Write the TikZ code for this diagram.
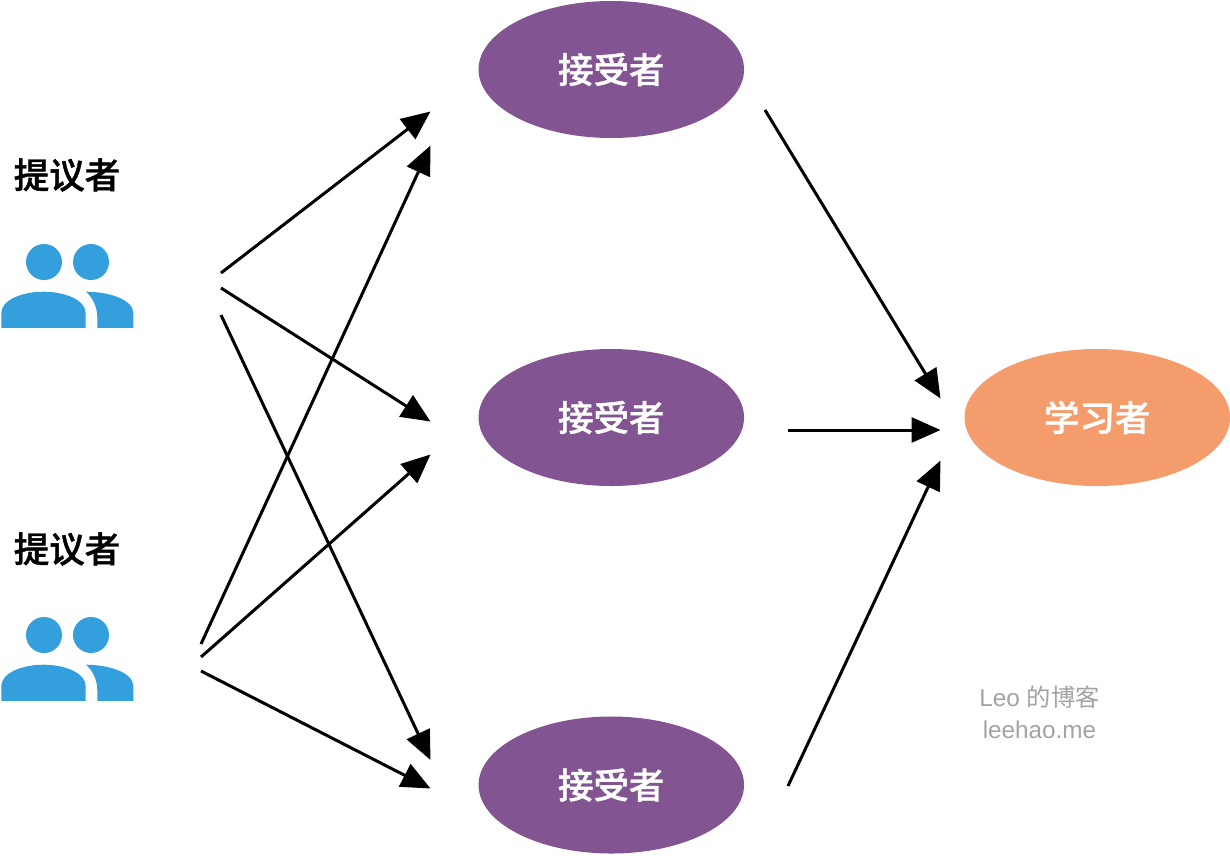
\documentclass[tikz,border=0pt]{standalone}
\usepackage{fontspec}
\setmainfont{Liberation Sans}
\newfontfamily\cjk{Noto Sans CJK SC}
\newfontfamily\cjkm{Noto Sans CJK SC Medium}[FakeBold=1.1]
\usetikzlibrary{shapes.geometric,arrows.meta}
\definecolor{acceptorc}{HTML}{825592}
\definecolor{learnerc}{HTML}{F49C6B}
\definecolor{iconc}{HTML}{349FDD}
\definecolor{notec}{HTML}{A3A3A3}
\tikzset{
  role/.style={ellipse,minimum width=265.5pt,minimum height=137pt,inner sep=0pt,text=white,font=\cjkm\fontsize{35.5}{40}\selectfont},
  acceptor/.style={role,fill=acceptorc},
  learner/.style={role,fill=learnerc},
  proposer/.style={inner sep=0pt,font=\cjkm\fontsize{35.5}{40}\selectfont},
  note/.style={inner sep=0pt,text=notec,font=\fontsize{24.3}{28}\selectfont},
  link/.style={draw=black,line width=3pt,-{Triangle[length=29pt,width=25pt]}},
  pics/people/.style={code={
    \fill[iconc] (44,262) circle (18);
    \fill[iconc] (91,262) circle (18);
    \fill[iconc] (1.3,327.8) -- (1.3,313) .. controls (1.3,300) and (22,291.7) .. (43.5,291.7)
      .. controls (65,291.7) and (85.7,300) .. (85.7,313) -- (85.7,327.8) -- cycle;
    \fill[iconc] (86,291.7) .. controls (110,291.7) and (133.3,300) .. (133.3,313) -- (133.3,327.8)
      -- (97.3,327.8) -- (97.3,318) .. controls (97.3,307) and (93,298) .. (86,291.7) -- cycle;
  }}
}
\begin{document}
\begin{tikzpicture}[x=1pt,y=-1pt]
\useasboundingbox (0,0) rectangle (1230,855);
% icons
\pic at (0,0) {people};
\pic at (0,373) {people};
% nodes
\node[proposer] (p1) at (67,175) {提议者};
\node[proposer] (p2) at (67,549) {提议者};
\node[acceptor] (a1) at (611.3,69.5) {接受者};
\node[acceptor] (a2) at (611.3,417.5) {接受者};
\node[acceptor] (a3) at (611.3,785) {接受者};
\node[learner] (l) at (1097.3,417.5) {学习者};
\node[note] (n1) at (1039.5,697) {Leo {\cjk 的博客}};
\node[note] (n2) at (1039.5,730) {leehao.me};
% free ends
\coordinate (s1a) at (221,273);
\coordinate (s1b) at (221,288);
\coordinate (s1c) at (221,315);
\coordinate (s2a) at (201,644);
\coordinate (s2b) at (201,657);
\coordinate (s2c) at (201,671);
\coordinate (t1a) at (430.5,111.5);
\coordinate (t1b) at (430.5,145.5);
\coordinate (t2a) at (430.5,421.5);
\coordinate (t2b) at (430.5,454.5);
\coordinate (t3a) at (430.5,760);
\coordinate (t3b) at (430.5,788.5);
\coordinate (o1) at (765,110);
\coordinate (o2) at (788,430);
\coordinate (o3) at (788,786);
\coordinate (i1) at (940.5,398.5);
\coordinate (i2) at (940.5,430);
\coordinate (i3) at (940.5,460.5);
% connectors
\draw[link] (s1a) -- (t1a);
\draw[link] (s1b) -- (t2a);
\draw[link] (s1c) -- (t3a);
\draw[link] (s2a) -- (t1b);
\draw[link] (s2b) -- (t2b);
\draw[link] (s2c) -- (t3b);
\draw[link] (o1) -- (i1);
\draw[link] (o2) -- (i2);
\draw[link] (o3) -- (i3);
\end{tikzpicture}
\end{document}
